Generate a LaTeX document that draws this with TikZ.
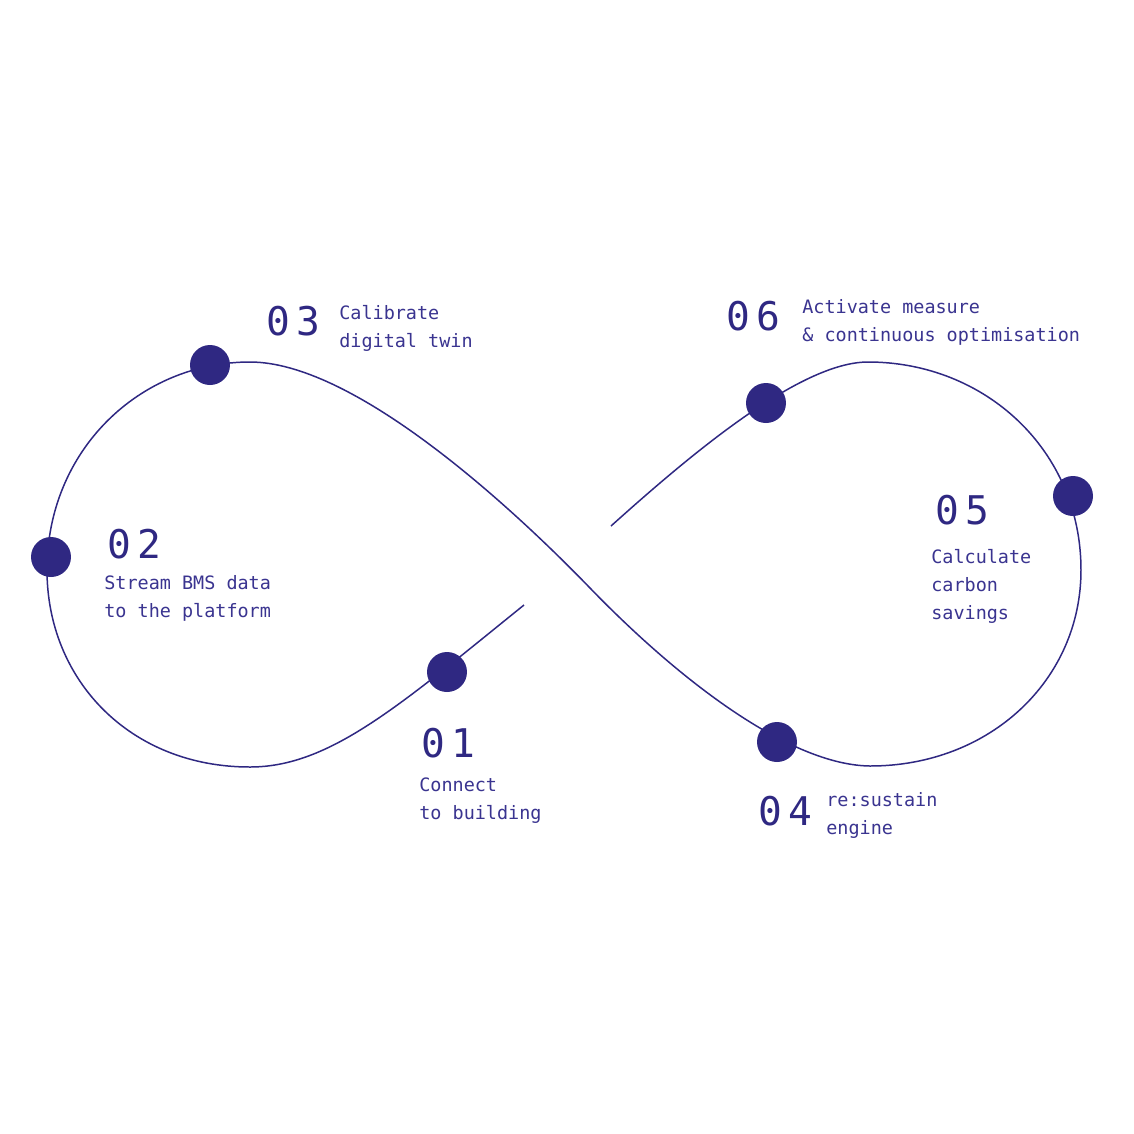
\documentclass[tikz,border=0pt]{standalone}
\usepackage{fontspec}
\newfontfamily\numfont[LetterSpace=15]{DejaVu Sans Mono}
\newfontfamily\txtfont{DejaVu Sans Mono}
\definecolor{ink}{HTML}{2F2882}
\definecolor{inktext}{HTML}{3A3490}
\begin{document}
\begin{tikzpicture}[x=0.02cm,y=-0.02cm,
  curve/.style={draw=ink,line width=0.85pt},
  dot/.style={circle,fill=ink,inner sep=0pt,minimum size=0.8cm},
  num/.style={anchor=base west,inner sep=0pt,text=ink,font=\numfont\fontsize{22.5}{27}\selectfont},
  lbl/.style={anchor=base west,inner sep=0pt,align=left,text=inktext,font=\txtfont\fontsize{10.5}{15.9}\selectfont}]
\useasboundingbox[fill=white] (0,0) rectangle (1134,1134);
% curve anchor points
\coordinate (e1) at (524,605);
\coordinate (lb) at (250,767);
\coordinate (ll) at (47,570);
\coordinate (lt) at (250,362);
\coordinate (c) at (590,588);
\coordinate (rb) at (870,766);
\coordinate (rr) at (1081,570);
\coordinate (rt) at (868,362);
\coordinate (e2) at (611,526);
\draw[curve] (e1) .. controls (400,705) and (330,767) .. (lb)
  .. controls (130,767) and (47,680) .. (ll)
  .. controls (47,450) and (140,362) .. (lt)
  .. controls (350,362) and (500,495) .. (c)
  .. controls (680,681) and (790,765) .. (rb)
  .. controls (990,766) and (1081,680) .. (rr)
  .. controls (1081,450) and (985,362) .. (rt)
  .. controls (800,362) and (690,455) .. (e2);
% dots
\node[dot] (d1) at (447,672) {};
\node[dot] (d2) at (51,557) {};
\node[dot] (d3) at (210,365) {};
\node[dot] (d4) at (777,742) {};
\node[dot] (d5) at (1073,496) {};
\node[dot] (d6) at (766,403) {};
% labels (base anchor = baseline of the last line)
\node[num] (n1) at (421,757) {01};
\node[lbl] (t1) at (419,819) {Connect\\to building};
\node[num] (n2) at (107,558) {02};
\node[lbl] (t2) at (104,617) {Stream BMS data\\to the platform};
\node[num] (n3) at (266,335) {03};
\node[lbl] (t3) at (339,347) {Calibrate\\digital twin};
\node[num] (n4) at (758,825) {04};
\node[lbl] (t4) at (826,834) {re:sustain\\engine};
\node[num] (n5) at (935,524) {05};
\node[lbl] (t5) at (931,619) {Calculate\\carbon\\savings};
\node[num] (n6) at (726,330) {06};
\node[lbl] (t6) at (802,341) {Activate measure\\\& continuous optimisation};
\end{tikzpicture}
\end{document}
